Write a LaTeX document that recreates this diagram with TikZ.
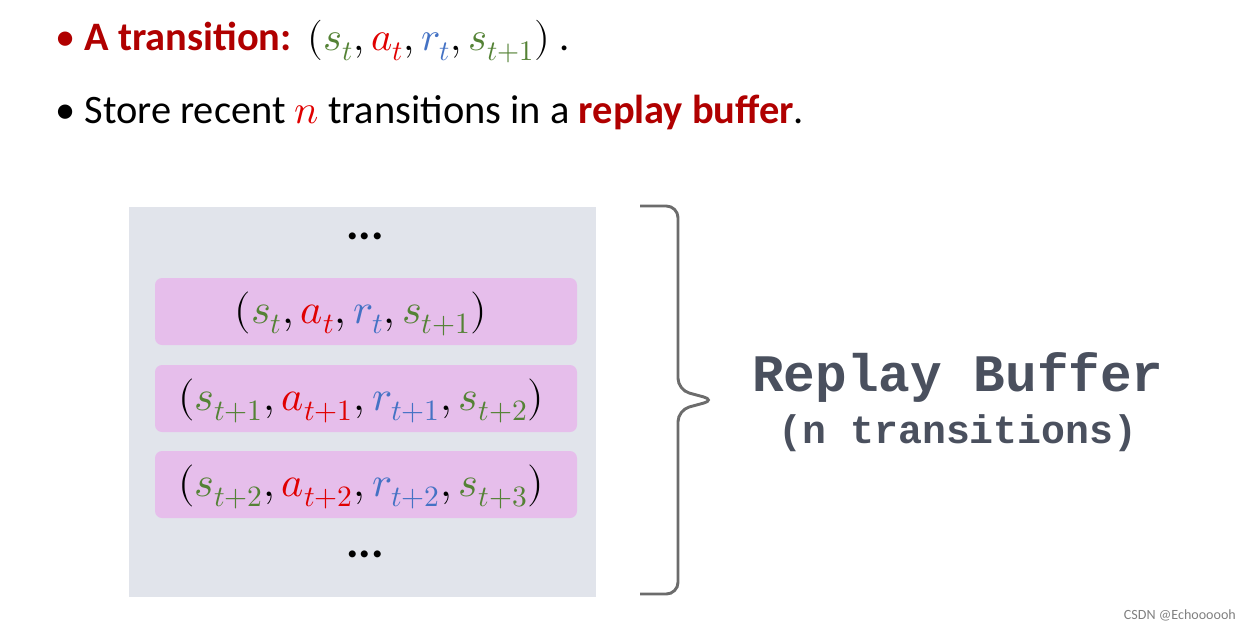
\documentclass[tikz,border=0pt]{standalone}
\usepackage{unicode-math}
\setmainfont{Carlito}
\setmathfont{Latin Modern Math}
\newfontfamily\monob{Liberation Mono}
\definecolor{sg}{HTML}{548235}
\definecolor{ar}{HTML}{E00000}
\definecolor{rb}{HTML}{4472C4}
\definecolor{dr}{HTML}{B00000}
\definecolor{bg}{HTML}{E1E4EB}
\definecolor{pk}{HTML}{E6BEEB}
\definecolor{tx}{HTML}{4A505E}
\newcommand{\Sx}[1]{\textcolor{sg}{s_{#1}}}
\newcommand{\Ax}[1]{\textcolor{ar}{a_{#1}}}
\newcommand{\Rx}[1]{\textcolor{rb}{r_{#1}}}
\begin{document}
\begin{tikzpicture}[x=0.03cm,y=-0.03cm,
  pinkbox/.style={fill=pk,rounded corners=6pt,draw=none},
  mtxt/.style={font=\fontsize{36}{40}\selectfont,inner sep=0pt},
  btxt/.style={font=\fontsize{34.5}{40}\selectfont,anchor=west,inner sep=0pt}]
\useasboundingbox (0,0) rectangle (1255,631);
\node[btxt] (l1) at (55,42) {\textcolor{dr}{\textbullet\ \textbf{A transition:}}\hspace{0.4em}$\fontsize{37}{40}\selectfont(\Sx{t},\Ax{t},\Rx{t},\Sx{t+1})$ .};
\node[btxt] (l2) at (55,112) {\textbullet\ Store recent $\textcolor{ar}{n}$ transitions in a \textcolor{dr}{\textbf{replay buffer}}.};
\fill[bg] (129,207) rectangle (596,597);
\node[font=\fontsize{40}{40}\selectfont\bfseries,inner sep=0pt] (d1) at (365,236) {...};
\node[font=\fontsize{40}{40}\selectfont\bfseries,inner sep=0pt] (d2) at (365,554) {...};
\fill[pinkbox] (155,278) rectangle (577,345);
\fill[pinkbox] (155,365) rectangle (577,432);
\fill[pinkbox] (155,451) rectangle (577,518);
\node[mtxt] (b1) at (361,314) {$(\Sx{t},\Ax{t},\Rx{t},\Sx{t+1})$};
\node[mtxt] (b2) at (361,401) {$(\Sx{t+1},\Ax{t+1},\Rx{t+1},\Sx{t+2})$};
\node[mtxt] (b3) at (361,487) {$(\Sx{t+2},\Ax{t+2},\Rx{t+2},\Sx{t+3})$};
\coordinate (bt) at (640,206);
\coordinate (bb) at (640,594);
\draw[gray!85!black,line width=2.5pt,rounded corners=10pt] (bt) -- (678,206) -- (678,390) -- (715,400) -- (678,410) -- (678,594) -- (bb);
\node[font=\fontsize{45}{48}\selectfont\monob\bfseries,text=tx] (rb) at (958,377) {Replay Buffer};
\node[font=\fontsize{34}{36}\selectfont\monob\bfseries,text=tx] (nt) at (958,433) {(n transitions)};
\node[font=\fontsize{12}{14}\selectfont,text=gray,anchor=east] (wm) at (1240,615) {CSDN @Echoooooh};
\end{tikzpicture}
\end{document}
